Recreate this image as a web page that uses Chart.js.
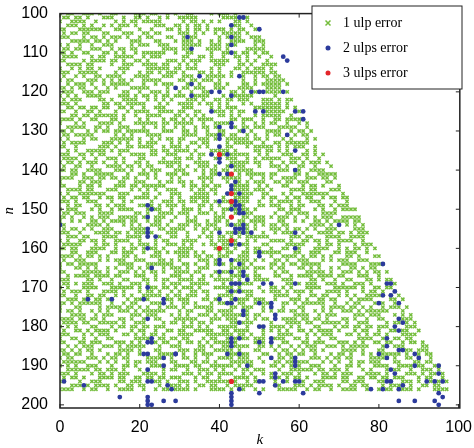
<!DOCTYPE html>
<html><head><meta charset="utf-8">
<script src="https://cdn.jsdelivr.net/npm/chart.js@4"></script>
<style>html,body{margin:0;background:#fff}#c{display:block}</style>
</head><body><canvas id="c" width="474" height="448"></canvas>
<script>
const xTicks=[0,20,40,60,80,100];
const yTicks=[100,110,120,130,140,150,160,170,180,190,200];
const labels=["1 ulp error","2 ulps error","3 ulps error"];
// green rows: n = 100..200, hex bitmask, MSB first, cell k = 4*digit+bit
const greenRows=[
"b3a61d94c2e87f05a3b91c6d4e","6d1c9a53e07b24f8c1a6d3952b","9e42b7c16a8d35f0e29b4c71a6","3a95d0e6b41c87f29d3a6e15c4",
"c7e3091ab5d64f82e7c1093b5a","5b18e6c3a97d02f4b6e58c1a39","e2d74b1960acf3851d7e4a2b96","1f6a38c5d29e70b4a3c9e61d58",
"a49c2e71f3b85d06c4a1f7e392","6ce5b03d87a1f42e9b6c30d5a7","d31a97e4c26b58f0a3d17c9e24","78b3e5c19a4d26f7e08b5c3a61",
"c2f69a1d73e54b08d6a2c9f1e3","3d84e7b2a1c69f50e7d38a4b26","95a1c3f6e28d74b0c5a91e3d78","e7c28b5d1a93f64e2c7b85d0a1",
"4a6f1e39c7d25b84a6f13c9e57","b1d5a7c36e824f9d0b1e57a3c6","2e97c4b8d1a35f62e9c47b1d83","d64a3e15b9c78f2a5d63e9b1c4",
"73b8c9d24e1a6f57b3c8d2e9a1","a9e1d6b73c5f820d9a1e6b7c35","5c34f2a8e9b71d64c5f3a28e9b","e81b7c53d6a29f4e1b8c75d3a6",
"36d9a4e1c2b87f5039d4ae1c2b","c9a25e7b31d64f8ac92e57b3d1","1b7e93c6a8d45f20b1e79c6a8d","f4c68a2d5e1b937f4c6a82d5e1",
"8a3d1fb7c9e2564a8d31fb7c9e","3e69c4a52d8b71f3e6c94a52d8","d15b7e39a4c68f2d15b7e39a4c","6f82a3c1e7d94b56f82a3c1e7d",
"a2c7e95b1d3f68a2c7e95b1d3f","5e1d4b8a6c2f937e1d4b8a6c2f","c83a6f2e94b17d5c83a6f2e94b","29f5c1b7a3e86d429f5c1b7a3e",
"e6b13d9c5a7f28e6b13d9c5a7f","7a4e8c26d1b95f3a4e8c26d1b9","b5d29a7e3c1f64b5d29a7e3c1f","4c8f6b1a9d3e274c8f6b1a9d3e",
"d9e3a5c72b6f81d9e3a5c72b6f","1a7c4e9d8b35f61a7c4e9d8b35","f3b6d28a1e7c94f3b6d28a1e7c","86e19c5b4a2d736e19c5b4a2d7",
"c5a3b7e16d9f28c5a3b7e16d9f","3d8e2a9c5b1f743d8e2a9c5b1f","a7f1c64e3d2b98a7f1c64e3d2b","5b2d9e8a7c4f165b2d9e8a7c4f",
"e9c4a13b6d7f25e9c4a13b6d7f","2c6b8f5d1a9e372c6b8f5d1a9e","b8a5e3c9d27f41b8a5e3c9d27f","6e3c1a7b9d4f826e3c1a7b9d4f",
"d2b9f6e4a1c375d2b9f6e4a1c3","94d7b2c8e5a6f194d7b2c8e5a6","c1e8a9d3b72f56c1e8a9d3b72f","5a9c3e6f2d8b475a9c3e6f2d8b",
"e47b5d1c8a3f92e47b5d1c8a3f","3b1e7a4c96d5f83b1e7a4c96d5","a6d3c8b1e2f947a6d3c8b1e2f9","7c5a2e9d4b6f187c5a2e9d4b6f",
"d8f2b5a3c1e964d8f2b5a3c1e9","19c6e4d7a8b35f19c6e4d7a8b3","f5a8d1c3b6e724f5a8d1c3b6e7","4e2b9c6a1d8f534e2b9c6a1d8f",
"b7c1e3f9a5d286b7c1e3f9a5d2","8d4a6b2e9c1f758d4a6b2e9c1f","c3e9d5a7b1f642c3e9d5a7b1f6","2f7b1c8e4a9d632f7b1c8e4a9d",
"e1a4c6b3d9f578e1a4c6b3d9f5","6b9d3a2e7c5f846b9d3a2e7c5f","a3c7e9b5d1f426a3c7e9b5d1f4","5d1e8b4a6c3f975d1e8b4a6c3f",
"c9b2a7d6e4f183c9b2a7d6e4f1","3a6c5e1b8d9f723a6c5e1b8d9f","d7e4b1c9a2f658d7e4b1c9a2f6","8c2f6a5d3e1b948c2f6a5d3e1b",
"b4a9d7e2c6f315b4a9d7e2c6f3","1e5c3b8a9d7f621e5c3b8a9d7f","f6d1a4c7e3b958f6d1a4c7e3b9","7b3e9c2d5a1f847b3e9c2d5a1f",
"a8c5b6e1d4f937a8c5b6e1d4f9","4d7a2c9b3e6f154d7a2c9b3e6f","e2b8d5a3c7f691e2b8d5a3c7f6","9a4c1e6d8b2f739a4c1e6d8b2f",
"c6e3a9b2d5f874c6e3a9b2d5f8","2b9d7c4e1a6f352b9d7c4e1a6f","d5a1e8c3b9f462d5a1e8c3b9f4","6c8b4a7d2e3f196c8b4a7d2e3f",
"b1d6c3e9a4f725b1d6c3e9a4f7","7e2a5b8c6d1f937e2a5b8c6d1f","a9c4d1e7b3f586a9c4d1e7b3f5","3f6e8a2c9d4b713f6e8a2c9d4b",
"e8b5c7a1d6f294e8b5c7a1d6f2","5a3d9b6e2c8f475a3d9b6e2c8f","c4e1b8d3a7f962c4e1b8d3a7f9","1d7a6c5e9b2f831d7a6c5e9b2f",
"f2c9e4b7a3d651f2c9e4b7a3d6"
];
const blue=[[43,103],[45,101],[46,101],[43,106],[43,108],[43,110],[50,104],[32,106],[33,109],[56,111],[57,112],[35,116],[45,116],[33,118],[29,119],[33,121],[38,120],[40,120],[43,121],[48,120],[50,120],[51,120],[56,120],[38,125],[49,125],[51,125],[59,125],[61,125],[61,127],[43,128],[43,129],[40,129],[46,130],[40,131],[40,132],[57,131],[40,134],[38,136],[42,136],[40,137],[40,138],[59,135],[43,139],[40,141],[42,141],[59,140],[44,143],[43,144],[43,145],[42,146],[45,146],[40,148],[44,148],[45,149],[45,150],[43,150],[44,149],[45,151],[46,151],[43,154],[44,155],[45,155],[46,155],[44,156],[46,156],[40,156],[46,154],[48,156],[43,159],[45,159],[50,161],[50,162],[59,156],[59,160],[40,163],[40,164],[43,163],[45,164],[40,166],[43,166],[46,166],[46,167],[47,168],[43,169],[44,169],[45,169],[51,169],[53,169],[59,169],[43,171],[45,171],[40,173],[42,174],[43,174],[44,173],[50,174],[53,174],[53,175],[46,176],[46,177],[54,177],[54,178],[45,179],[50,180],[51,180],[43,183],[43,184],[43,185],[45,183],[50,184],[53,183],[53,184],[42,187],[45,187],[53,188],[59,188],[59,189],[59,190],[47,190],[54,192],[54,193],[50,194],[51,194],[54,195],[56,194],[59,194],[60,194],[45,196],[50,197],[43,197],[43,198],[43,199],[43,200],[61,197],[29,187],
[0,154],[22,149],[23,150],[22,152],[22,155],[22,156],[22,157],[24,157],[22,160],[23,165],[22,170],[21,173],[26,173],[26,174],[7,173],[13,173],[22,178],[23,183],[23,184],[22,184],[21,187],[22,187],[26,188],[29,187],[22,191],[26,190],[22,194],[23,194],[1,194],[6,195],[27,195],[28,196],[15,198],[22,198],[22,199],[22,200],[23,200],[26,199],[29,199],
[70,154],[81,164],[82,169],[83,169],[81,172],[83,172],[84,171],[80,174],[85,174],[85,178],[86,179],[84,180],[85,181],[82,183],[82,185],[85,186],[86,186],[80,187],[82,188],[89,187],[90,188],[89,190],[95,190],[83,191],[84,192],[95,192],[82,194],[83,194],[86,195],[92,194],[94,194],[96,194],[78,196],[81,196],[85,196],[95,197],[96,198],[85,199],[89,199],[94,199],[95,200]];
const red=[[40,136],[43,141],[43,146],[43,148],[43,152],[43,158],[40,160],[43,194]];

const green=[];
greenRows.forEach((row,i)=>{const n=100+i;const lim=Math.round(47+(n-100)*0.53);
  for(let d=0;d<row.length;d++){const v=parseInt(row[d],16);
    for(let b=0;b<4;b++){if(v&(8>>b)){const k=d*4+b;if(k<=lim)green.push({x:k,y:n});}}}});
const toPts=a=>a.map(p=>({x:p[0],y:p[1]}));
const GREEN='#74bd3c',BLUE='#2b3a9c',RED='#e3262a';
const frame={id:'frame',afterDraw(ch){const c=ch.ctx,a=ch.chartArea,xs=ch.scales.x,ys=ch.scales.y;
  c.save();c.strokeStyle='#222';c.lineWidth=1.5;c.strokeRect(a.left,a.top,a.right-a.left,a.bottom-a.top);
  c.lineWidth=1;c.beginPath();
  xTicks.forEach(t=>{const x=xs.getPixelForValue(t);c.moveTo(x,a.bottom);c.lineTo(x,a.bottom-4);c.moveTo(x,a.top);c.lineTo(x,a.top+4);});
  yTicks.forEach(t=>{const y=ys.getPixelForValue(t);c.moveTo(a.left,y);c.lineTo(a.left+4,y);c.moveTo(a.right,y);c.lineTo(a.right-4,y);});
  c.stroke();
  c.fillStyle='#000';c.font='italic 15px "Liberation Serif"';c.textAlign='center';
  c.fillText('k',(a.left+a.right)/2,444);
  c.save();c.translate(13,(a.top+a.bottom)/2);c.rotate(-Math.PI/2);c.fillText('n',0,0);c.restore();
  const lx=312,ly=6,lw=150,lh=83;c.fillStyle='#fff';c.fillRect(lx,ly,lw,lh);c.strokeStyle='#222';c.strokeRect(lx,ly,lw,lh);
  c.font='14px "Liberation Serif"';c.textAlign='left';c.textBaseline='middle';
  labels.forEach((t,i)=>{const y=ly+17+i*25,x=lx+16;
    if(i===0){c.strokeStyle=GREEN;c.lineWidth=1.5;c.beginPath();c.moveTo(x-2.5,y-2.5);c.lineTo(x+2.5,y+2.5);c.moveTo(x+2.5,y-2.5);c.lineTo(x-2.5,y+2.5);c.stroke();}
    else{c.fillStyle=i===1?BLUE:RED;c.beginPath();c.arc(x,y,2.5,0,7);c.fill();}
    c.fillStyle='#000';c.fillText(t,lx+31,y);});
  c.restore();}};
new Chart(document.getElementById('c'),{type:'scatter',
 data:{datasets:[
  {label:labels[0],order:3,data:green,pointStyle:'crossRot',radius:2.3,borderColor:GREEN,borderWidth:1.5,backgroundColor:GREEN},
  {label:labels[1],order:2,data:toPts(blue),pointStyle:'circle',radius:2.4,borderWidth:0,backgroundColor:BLUE},
  {label:labels[2],order:1,data:toPts(red),pointStyle:'circle',radius:2.6,borderWidth:0,backgroundColor:RED}]},
 options:{responsive:false,animation:false,events:[],
  layout:{padding:{top:5,right:11,left:0,bottom:0}},
  plugins:{legend:{display:false},tooltip:{enabled:false}},
  scales:{
   x:{min:0,max:100.3,afterBuildTicks:s=>{s.ticks=xTicks.map(v=>({value:v}));},afterFit:s=>{s.height=40;},
      grid:{display:false},border:{display:false},ticks:{color:'#000',font:{family:'Liberation Sans',size:16},padding:2,maxRotation:0}},
   y:{reverse:true,min:100,max:200.8,afterBuildTicks:s=>{s.ticks=yTicks.map(v=>({value:v}));},afterFit:s=>{s.width=60;},
      grid:{display:false},border:{display:false},ticks:{color:'#000',font:{family:'Liberation Sans',size:16},padding:4}}}},
 plugins:[frame]});
</script></body></html>
